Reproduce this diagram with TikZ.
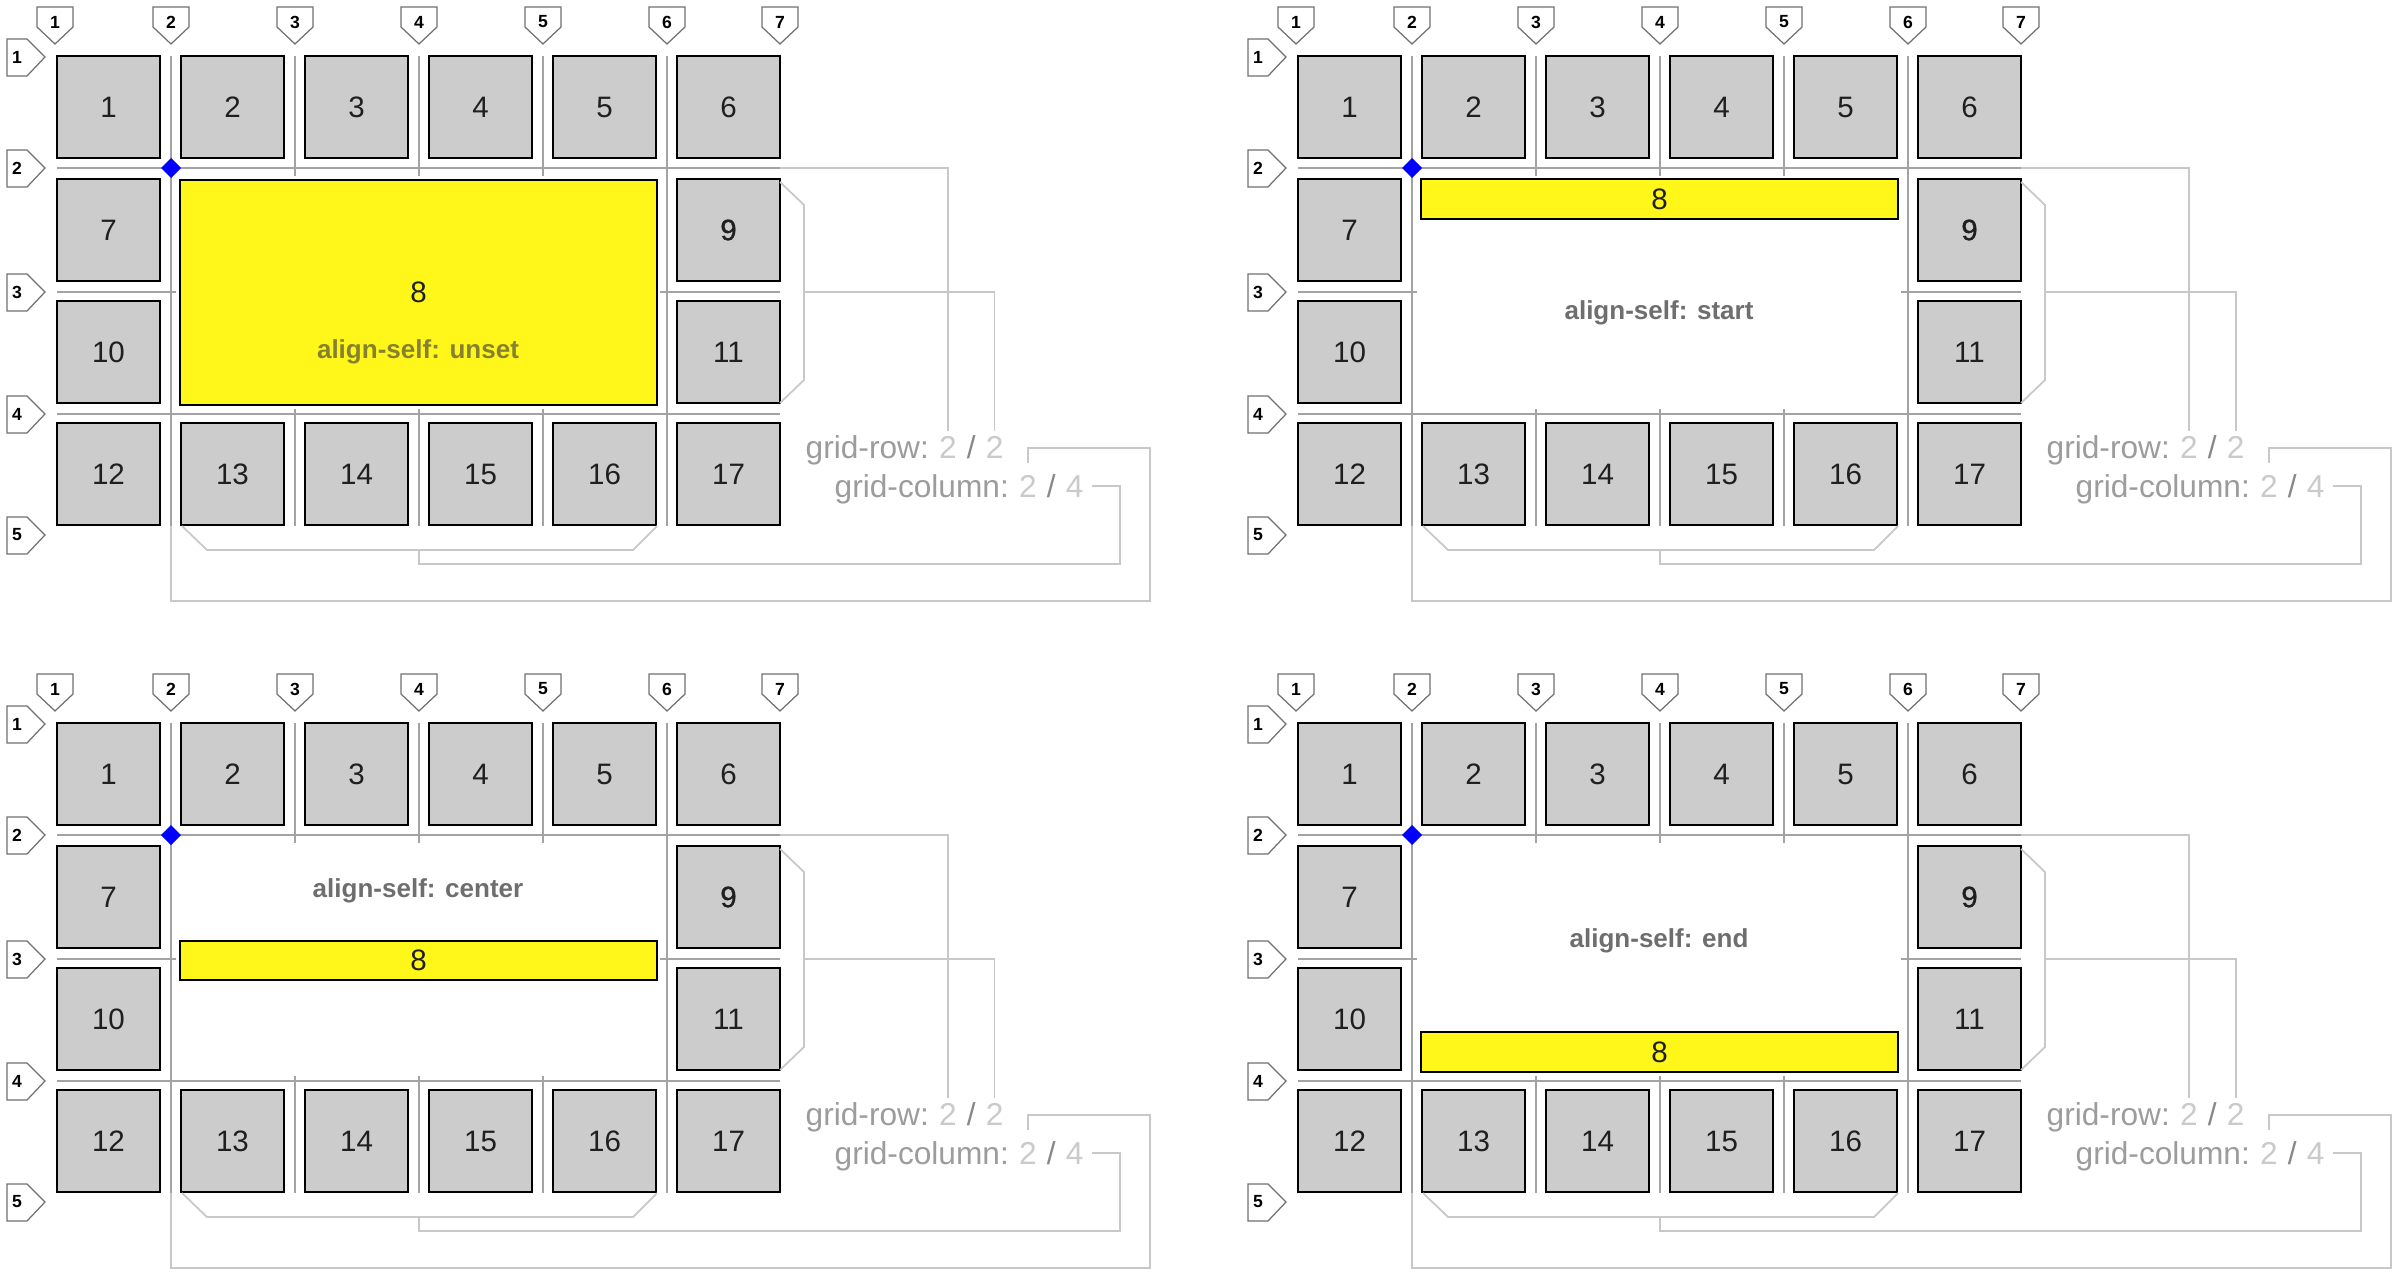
\documentclass[tikz,border=0pt]{standalone}
\usepackage{fontspec}
\setmainfont{Liberation Sans}
\newfontface\heavynum[FakeBold=0.9]{Liberation Sans}

\definecolor{cellgray}{HTML}{CCCCCC}
\definecolor{areayellow}{HTML}{FFF71A}
\definecolor{gridgray}{HTML}{A3A3A3}
\definecolor{linkgray}{HTML}{C8C8C8}
\definecolor{badgegray}{HTML}{707070}
\definecolor{labelgray}{HTML}{6E6E6E}
\definecolor{labelolive}{HTML}{858130}
\definecolor{propgray}{HTML}{9C9C9C}
\definecolor{valgray}{HTML}{CACACA}
\definecolor{slashgray}{HTML}{888888}

\tikzset{
  cell/.style={draw=black, line width=0.55pt, fill=cellgray, inner sep=0pt,
    minimum width=1.03cm, minimum height=1.02cm,
    font=\fontsize{8.4}{10}\selectfont, text=black!88},
  area/.style={draw=black, line width=0.55pt, fill=areayellow, inner sep=0pt,
    minimum width=4.77cm, font=\fontsize{8.4}{10}\selectfont, text=black!88},
  badge/.style={draw=badgegray, fill=white, line width=0.35pt},
  badgenum/.style={inner sep=0pt, font=\fontsize{5}{6}\selectfont\bfseries},
  gridl/.style={draw=gridgray, line width=0.3pt},
  link/.style={draw=linkgray, line width=0.5pt},
  prop/.style={inner sep=0pt, anchor=base west, font=\fontsize{9}{11}\selectfont, text=propgray},
  val/.style={prop, text=valgray},
  slash/.style={prop, text=slashgray},
  selflabel/.style={inner sep=0pt, font=\fontsize{7.4}{9}\selectfont\bfseries}
}

\begin{document}
\begin{tikzpicture}[x=0.01cm, y=-0.01cm]

\useasboundingbox (0,0) rectangle (2400,1279);

\foreach \px/\py/\p/\top/\bot/\ly/\kind/\lc in {0/0/a/180/405/352/unset/labelolive,
    1241/0/b/179/219/313/start/labelgray,
    0/667/c/274/313/224/center/labelgray,
    1241/667/d/365/405/274/end/labelgray} {
\begin{scope}[shift={(\px,\py)}]

%Draw grid lines
\draw[gridl] (171,56) -- (171,526);
\draw[gridl] (667,56) -- (667,526);
\foreach \x in {295,419,543} {
\draw[gridl] (\x,56) -- (\x,176);
\draw[gridl] (\x,409) -- (\x,526);
}
\draw[gridl] (57,168) -- (780,168);
\draw[gridl] (57,414) -- (780,414);
\draw[gridl] (57,292) -- (176,292);
\draw[gridl] (660,292) -- (780,292);

%Draw line badges
\foreach \i/\x in {1/55, 2/171, 3/295, 4/419, 5/543, 6/667, 7/780} {
\draw[badge] ({\x-18},7) -- ({\x+18},7) -- ({\x+18},27) -- (\x,44) -- ({\x-18},27) -- cycle;
\node[badgenum] (\p c\i) at (\x,22) {\i};
}
\foreach \i/\y in {1/57, 2/168, 3/292, 4/414, 5/535} {
\draw[badge] (7,{\y-18}) -- (27,{\y-18}) -- (45,\y) -- (27,{\y+19}) -- (7,{\y+19}) -- cycle;
\node[badgenum] (\p r\i) at (17,\y) {\i};
}

%Draw items
\foreach \n/\c/\yc in {1/1/107, 2/2/107, 3/3/107, 4/4/107, 5/5/107, 6/6/107,
    7/1/230, 9/6/230, 10/1/352, 11/6/352,
    12/1/474, 13/2/474, 14/3/474, 15/4/474, 16/5/474, 17/6/474}
\node[cell] (\p\n) at ({108.5+124*(\c-1)},\yc) {\ifnum\n=9 {\heavynum\fontsize{8.4}{10}\selectfont 9}\else\n\fi};

\node[area, minimum height={0.01cm*(\bot-\top)}] (\p8) at (418.5,{(\top+\bot)/2}) {8};
\node[selflabel, text=\lc] (\p lab) at (418,\ly) {align-self: \kind};

\fill[blue] (171,158) -- (181,168) -- (171,178) -- (161,168) -- cycle;

%Draw grid-row / grid-column
\node[prop] (\p rk) at (805,458) {grid-row:};
\node[val] (\p rs) at ([xshift=2.5pt]\p rk.base east) {2};
\node[slash] (\p rsl) at ([xshift=2.5pt]\p rs.base east) {/};
\node[val] (\p re) at ([xshift=2.5pt]\p rsl.base east) {2};

\node[prop] (\p ck) at (834,497) {grid-column:};
\node[val] (\p cs) at ([xshift=2.5pt]\p ck.base east) {2};
\node[slash] (\p csl) at ([xshift=2.5pt]\p cs.base east) {/};
\node[val] (\p ce) at ([xshift=2.5pt]\p csl.base east) {4};

%Draw brackets and links
\coordinate (\p rmid) at (804,292);
\coordinate (\p bmid) at (419,550);
\draw[link] (780,182) -- (804,205) -- (804,380) -- (780,403);
\draw[link] (182,526) -- (207,550) -- (633,550) -- (657,526);
\draw[link] (780,168) -| ([yshift=0.04cm]\p rs.north);
\draw[link] (\p rmid) -| ([yshift=0.04cm]\p re.north);
\draw[link] (\p bmid) -- ++(0,14) -| ([xshift=0.36cm]\p ce.east) -- ([xshift=0.08cm]\p ce.east);
\draw[link] (171,526) -- (171,601) -| (1150,448) -| ([yshift=0.11cm]\p cs.north);

\end{scope}
}

\end{tikzpicture}
\end{document}
